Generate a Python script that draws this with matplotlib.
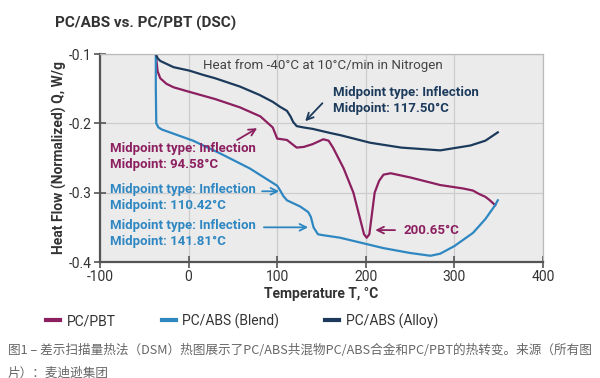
import matplotlib
matplotlib.use("Agg")
import matplotlib.pyplot as plt

plt.rcParams['font.family'] = ['Roboto', 'DejaVu Sans']

# ---- data ----
pbt_T = [-37, -35, -32, -25, -17, 2, 30, 58, 81, 95, 100, 111, 122, 130, 140, 152, 158, 163,
         175, 186, 193, 198, 201, 204, 207, 210, 215, 220, 228, 250, 284, 310, 321, 328, 335, 340, 346]
pbt_Q = [-0.100, -0.125, -0.135, -0.143, -0.148, -0.155, -0.165, -0.177, -0.190, -0.206, -0.222,
         -0.224, -0.235, -0.234, -0.230, -0.223, -0.225, -0.235, -0.265, -0.300, -0.335, -0.360,
         -0.365, -0.360, -0.330, -0.300, -0.283, -0.274, -0.272, -0.278, -0.289, -0.294, -0.297,
         -0.302, -0.306, -0.311, -0.318]

blend_T = [-37, -37, -36.5, -34, -30, 5, 35, 69, 100, 103, 107, 111, 126, 135, 138, 141, 146, 150,
           171, 220, 250, 273, 284, 300, 321, 335, 346, 349]
blend_Q = [-0.100, -0.150, -0.200, -0.206, -0.209, -0.225, -0.243, -0.265, -0.290, -0.296, -0.305,
           -0.311, -0.320, -0.328, -0.335, -0.350, -0.360, -0.361, -0.365, -0.380, -0.387, -0.391,
           -0.388, -0.377, -0.358, -0.338, -0.318, -0.311]

alloy_T = [-37, -35, -32, -17, 1, 16, 30, 58, 80, 95, 103, 111, 115, 118, 122, 130, 140, 160,
           171, 205, 240, 284, 318, 335, 349]
alloy_Q = [-0.100, -0.106, -0.110, -0.119, -0.124, -0.130, -0.135, -0.147, -0.159, -0.169, -0.176,
           -0.182, -0.190, -0.198, -0.204, -0.206, -0.208, -0.214, -0.217, -0.228, -0.235, -0.239,
           -0.232, -0.225, -0.213]

x_ticks = [-100, 0, 100, 200, 300, 400]
y_ticks = [-0.4, -0.3, -0.2, -0.1]

C_PBT = '#8b1f5f'
C_BLEND = '#2f87c2'
C_ALLOY = '#1c3a5c'
TXT = '#333333'

fig = plt.figure(figsize=(6.0, 3.78), dpi=100)
ax = fig.add_axes([100/600, 1-262/378, 443/600, 208/378])
ax.set_facecolor('#ebebeb')

l1, = ax.plot(pbt_T, pbt_Q, color=C_PBT, lw=1.6, label='PC/PBT')
l2, = ax.plot(blend_T, blend_Q, color=C_BLEND, lw=1.6, label='PC/ABS (Blend)')
l3, = ax.plot(alloy_T, alloy_Q, color=C_ALLOY, lw=1.6, label='PC/ABS (Alloy)')

ax.set_xlim(-100, 400)
ax.set_ylim(-0.4, -0.1)
ax.set_xticks(x_ticks)
ax.set_yticks(y_ticks)
ax.set_xticklabels([str(v) for v in x_ticks])
ax.set_yticklabels(['-0.4', '-0.3', '-0.2', '-0.1'])
ax.grid(True, color='#cccccc', lw=0.9)
ax.set_axisbelow(True)
for s in ['top', 'right']:
    ax.spines[s].set_color('#bbbbbb')
    ax.spines[s].set_linewidth(0.9)
for s in ['left', 'bottom']:
    ax.spines[s].set_color('#555555')
    ax.spines[s].set_linewidth(1.6)
ax.tick_params(direction='inout', length=8, width=1.2, color='#555555',
               labelsize=10, labelcolor=TXT, pad=2)

ax.set_xlabel('Temperature T, °C', fontsize=10, fontweight='bold', color=TXT, labelpad=2)
ax.set_ylabel('Heat Flow (Normalized) Q, W/g', fontsize=10, fontweight='bold', color=TXT, labelpad=1)

fig.text(55/600, 1-23/378, 'PC/ABS vs. PC/PBT (DSC)', fontsize=11, fontweight='bold',
         color=TXT, va='center', ha='left')

ax.text(151, -0.116, 'Heat from -40°C at 10°C/min in Nitrogen', fontsize=9.6, color='#444444',
        ha='center', va='center')

fs = 9.5
ax.text(-88.7, -0.248, 'Midpoint type: Inflection\nMidpoint: 94.58°C', color=C_PBT,
        fontsize=fs, fontweight='bold', ha='left', va='center', linespacing=1.3)
ax.text(163.3, -0.167, 'Midpoint type: Inflection\nMidpoint: 117.50°C', color=C_ALLOY,
        fontsize=fs, fontweight='bold', ha='left', va='center', linespacing=1.3)
ax.text(-88.7, -0.307, 'Midpoint type: Inflection\nMidpoint: 110.42°C', color=C_BLEND,
        fontsize=fs, fontweight='bold', ha='left', va='center', linespacing=1.3)
ax.text(-88.7, -0.359, 'Midpoint type: Inflection\nMidpoint: 141.81°C', color=C_BLEND,
        fontsize=fs, fontweight='bold', ha='left', va='center', linespacing=1.3)
ax.text(242.4, -0.354, '200.65°C', color=C_PBT, fontsize=fs, fontweight='bold',
        ha='left', va='center')

def arrow(x0, y0, x1, y1, c):
    ax.annotate('', xy=(x1, y1), xytext=(x0, y0),
                arrowprops=dict(arrowstyle='->', color=c, lw=1.3, mutation_scale=12,
                                shrinkA=0, shrinkB=0))

arrow(54.8, -0.224, 77.4, -0.207, C_PBT)
arrow(151, -0.171, 131.6, -0.197, C_ALLOY)
arrow(83, -0.298, 102.3, -0.298, C_BLEND)
arrow(85, -0.350, 135, -0.350, C_BLEND)
arrow(233, -0.354, 210.7, -0.354, C_PBT)

leg = fig.legend(handles=[l1, l2, l3], loc='center left', bbox_to_anchor=(46/600, 1-321/378),
                 ncol=3, frameon=False, fontsize=10, handlelength=1.0, handletextpad=0.5,
                 columnspacing=3.3, borderaxespad=0, borderpad=0)
for h in leg.legend_handles:
    h.set_linewidth(3)
for t in leg.get_texts():
    t.set_color(TXT)

cap_font = ['Noto Sans CJK SC', 'DejaVu Sans']
fig.text(8/600, 1-350/378,
         '图1 – 差示扫描量热法（DSM）热图展示了PC/ABS共混物PC/ABS合金和PC/PBT的热转变。来源（所有图',
         fontsize=9.1, color='#666666', family=cap_font, va='center', ha='left')
fig.text(8/600, 1-373/378, '片）：麦迪逊集团', fontsize=9.1, color='#666666', family=cap_font,
         va='center', ha='left')

fig.savefig('out.png', dpi=100)
